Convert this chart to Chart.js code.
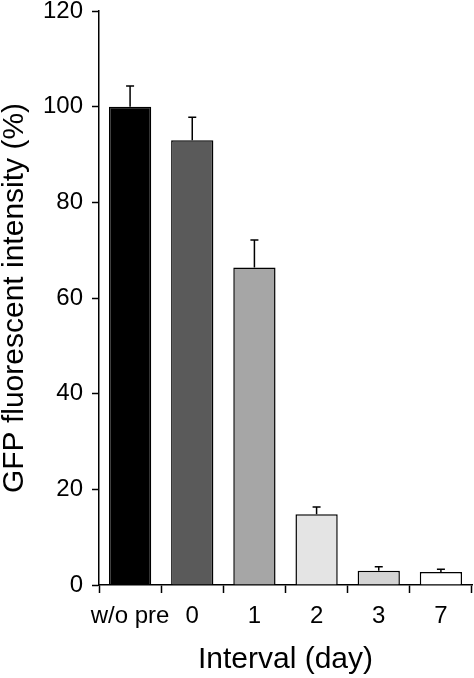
<!DOCTYPE html>
<html>
<head>
<meta charset="utf-8">
<title>GFP fluorescent intensity</title>
<script src="https://cdn.jsdelivr.net/npm/chart.js@4/dist/chart.umd.min.js"></script>
<style>
  html, body { margin: 0; padding: 0; background: #fff; }
  #wrap { width: 474px; height: 678px; position: relative; }
</style>
</head>
<body>
<div id="wrap"><canvas id="gfp-chart"></canvas></div>
<script>
// data
const categories = ['w/o pre', '0', '1', '2', '3', '7'];
const intensity = [100, 93, 66.4, 14.8, 3.0, 2.7];
const errorUp = [4.3, 4.8, 5.7, 1.5, 0.8, 0.6];
const barColors = ['#000000', '#5a5a5a', '#a6a6a6', '#e4e4e4', '#d4d4d4', '#ffffff'];
const yTicks = [0, 20, 40, 60, 80, 100, 120];

const FONT = '"Liberation Sans", Arial, Helvetica, sans-serif';

// upward-only error bars with a small cap
const errorBars = {
    id: 'errorBars',
    afterDatasetsDraw(chart) {
        const ctx = chart.ctx;
        const yScale = chart.scales.y;
        const meta = chart.getDatasetMeta(0);
        ctx.save();
        ctx.strokeStyle = '#000';
        ctx.lineWidth = 1.5;
        meta.data.forEach((bar, i) => {
            const top = yScale.getPixelForValue(intensity[i] + errorUp[i]);
            ctx.beginPath();
            ctx.moveTo(bar.x, bar.y);
            ctx.lineTo(bar.x, top);
            ctx.moveTo(bar.x - 4, top);
            ctx.lineTo(bar.x + 4, top);
            ctx.stroke();
        });
        ctx.restore();
    }
};

new Chart(document.getElementById('gfp-chart'), {
    type: 'bar',
    data: {
        labels: categories,
        datasets: [{
            data: intensity,
            backgroundColor: barColors,
            borderColor: '#000',
            borderWidth: 1.5,
            barPercentage: 0.68,
            categoryPercentage: 1.0
        }]
    },
    options: {
        responsive: true,
        maintainAspectRatio: false,
        animation: false,
        devicePixelRatio: 1,
        layout: { padding: { top: 0, right: 2, bottom: 0, left: 0 } },
        plugins: {
            legend: { display: false },
            tooltip: { enabled: false }
        },
        scales: {
            x: {
                offset: true,
                grid: {
                    offset: true,
                    drawOnChartArea: false,
                    drawTicks: true,
                    tickLength: 8,
                    tickWidth: 1.5,
                    tickColor: '#000'
                },
                border: { display: true, color: '#000', width: 1.5 },
                ticks: {
                    color: '#000',
                    padding: 9,
                    maxRotation: 0,
                    autoSkip: false,
                    font: { family: FONT, size: 24 }
                },
                title: {
                    display: true,
                    text: 'Interval (day)',
                    color: '#000',
                    padding: { top: 0, bottom: 0 },
                    font: { family: FONT, size: 30 }
                },
                afterFit(scale) { scale.height = 93; }
            },
            y: {
                min: 0,
                max: 120,
                afterBuildTicks(scale) {
                    scale.ticks = yTicks.map(v => ({ value: v }));
                },
                grid: {
                    drawOnChartArea: false,
                    tickLength: 7,
                    tickWidth: 1.5,
                    tickColor: '#000'
                },
                border: { display: true, color: '#000', width: 1.5 },
                ticks: {
                    color: '#000',
                    padding: 9,
                    font: { family: FONT, size: 24 }
                },
                title: {
                    display: true,
                    text: 'GFP fluorescent intensity (%)',
                    color: '#000',
                    padding: { top: -3, bottom: 0 },
                    font: { family: FONT, size: 30 }
                },
                afterFit(scale) {
                    scale.width = 99;
                    scale.paddingTop = 11;
                }
            }
        }
    },
    plugins: [errorBars]
});
</script>
</body>
</html>
